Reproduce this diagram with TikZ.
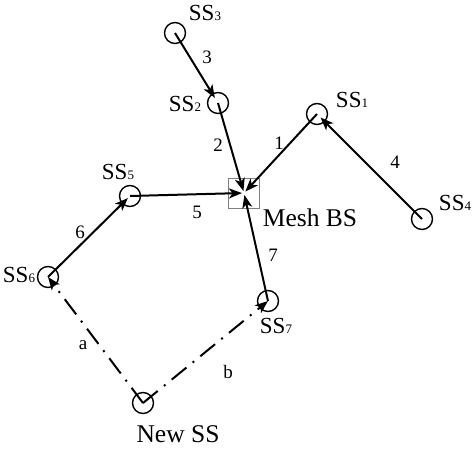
\documentclass[tikz,border=0pt]{standalone}
\usepackage{fontspec}
\setmainfont{Liberation Serif}
\usetikzlibrary{arrows.meta}
\newcommand{\ssn}[1]{SS{\fontsize{13}{13}\selectfont #1}}

\begin{document}
\begin{tikzpicture}[x=1pt, y=-1pt, main/.style = {draw, circle, line width=1.4pt, minimum size=21pt, inner sep=0pt}, bsbox/.style = {draw=gray, line width=0.6pt, minimum width=31pt, minimum height=30pt, inner sep=0pt}, txt/.style = {inner sep=0pt, font=\fontsize{23}{23}\selectfont}, big/.style = {inner sep=0pt, font=\fontsize{25.5}{26}\selectfont}, num/.style = {inner sep=0pt, font=\fontsize{19}{19}\selectfont}, link/.style = {line width=2pt, -{Stealth[length=13pt, width=10pt, inset=3.5pt]}}, probe/.style = {link, dash pattern=on 19pt off 8pt on 2pt off 8pt}]
		\useasboundingbox (0,0) rectangle (474,449);
		\node[bsbox] (bs) at (244,193) {};
		\node[main] (1) at (317,114) {};
		\node[main] (2) at (218,103) {};
		\node[main] (3) at (175,33) {};
		\node[main] (4) at (422,219) {};
		\node[main] (5) at (130,196) {};
		\node[main] (6) at (48,277) {};
		\node[main] (7) at (268,301) {};
		\node[main] (new) at (143,403) {};
		
		\node[txt] (t1) at (352,100) {\ssn{1}};
		\node[txt] (t2) at (185,104) {\ssn{2}};
		\node[txt] (t3) at (205,13) {\ssn{3}};
		\node[txt] (t4) at (455,203) {\ssn{4}};
		\node[txt] (t5) at (118,172) {\ssn{5}};
		\node[txt] (t6) at (19,275) {\ssn{6}};
		\node[txt] (t7) at (276,326) {\ssn{7}};
		\node[big] (tbs) at (310,218) {Mesh BS};
		\node[big] (tnew) at (178,434) {New SS};
		
		\node[num] (l1) at (279,143) {1};
		\node[num] (l2) at (218,145) {2};
		\node[num] (l3) at (207,57) {3};
		\node[num] (l4) at (395,162) {4};
		\node[num] (l5) at (197,212) {5};
		\node[num] (l6) at (80,232) {6};
		\node[num] (l7) at (273,255) {7};
		\node[num] (la) at (83,345) {a};
		\node[num] (lb) at (228,372) {b};
		
		\draw[link, shorten >=2pt] (1.center) -- (bs.center);
		\draw[link, shorten >=2pt] (2.center) -- (bs.center);
		\draw[link, shorten >=2pt] (5.center) -- (bs.center);
		\draw[link, shorten >=2pt] (7.center) -- (bs.center);
		\draw[link, shorten >=6pt] (3.center) -- (2.center);
		\draw[link, shorten >=5pt] (4.center) -- (1.center);
		\draw[link, shorten >=3pt] (6.center) -- (5.center);
		\draw[probe] (new.center) -- (6.center);
		\draw[probe] (new.center) -- (7.center);
	\end{tikzpicture}
\end{document}
